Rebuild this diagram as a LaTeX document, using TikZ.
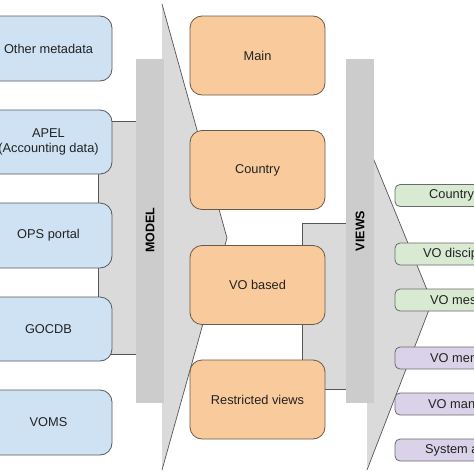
\documentclass[tikz,border=0pt]{standalone}
\usepackage{fontspec}
\setmainfont{Liberation Sans}
\definecolor{srcblue}{HTML}{CFE2F3}
\definecolor{srcline}{HTML}{595959}
\definecolor{modorange}{HTML}{F9CB9C}
\definecolor{modline}{HTML}{6B5A4A}
\definecolor{viewgreen}{HTML}{D9EAD3}
\definecolor{viewpurple}{HTML}{D9D2E9}
\definecolor{viewline}{HTML}{6A6A6A}
\definecolor{lightgray}{HTML}{DADADA}
\definecolor{bargray}{HTML}{CCCCCC}
\definecolor{edgegray}{HTML}{555555}
\definecolor{txt}{HTML}{222222}
\begin{document}
\begin{tikzpicture}[x=1pt,y=-1pt,
  every node/.style={font=\fontsize{12.8}{15}\selectfont, text=txt},
  srcbox/.style={draw=srcline, fill=srcblue, rounded corners=12pt, line width=0.8pt,
    minimum width=127pt, inner sep=0pt, align=center},
  modbox/.style={draw=modline, fill=modorange, rounded corners=12pt, line width=0.8pt,
    minimum width=135pt, minimum height=79pt, inner sep=0pt, align=center},
  viewbox/.style={draw=viewline, line width=0.8pt, rounded corners=5pt,
    minimum width=125pt, minimum height=22pt, inner sep=0pt},
  greenbox/.style={viewbox, fill=viewgreen},
  purplebox/.style={viewbox, fill=viewpurple},
  viewtext/.style={anchor=west, inner sep=0pt},
  backrect/.style={fill=lightgray, draw=edgegray, line width=0.7pt},
  barrect/.style={fill=bargray},
  tri/.style={fill=lightgray},
  triedge/.style={draw=edgegray, line width=0.7pt},
  barlabel/.style={rotate=90, font=\fontsize{12.5}{15}\bfseries, text=black}
]
\useasboundingbox (0,0) rectangle (474,474);
\fill[white] (0,0) rectangle (474,474);

% ---- model stage ----
\draw[backrect] (98,121) rectangle (136,354);
\fill[tri] (162,4) -- (227,238) -- (162,470) -- cycle;
\draw[triedge] (162,4) -- (227,238) -- (162,470);
\fill[barrect] (136,59) rectangle (164,403);
\node[barlabel] (model) at (150,230) {MODEL};

% sources
\node[srcbox, minimum height=65pt] (other) at (48.5,48.5) {Other metadata};
\node[srcbox, minimum height=64pt] (apel) at (48.5,142) {APEL\\(Accounting data)};
\node[srcbox, minimum height=65pt] (ops) at (48.5,235.5) {OPS portal};
\node[srcbox, minimum height=64pt] (gocdb) at (48.5,329) {GOCDB};
\node[srcbox, minimum height=65pt] (voms) at (48.5,422.5) {VOMS};

% ---- views stage ----
\draw[backrect] (302,223) rectangle (346,389);
\fill[tri] (367,143) -- (432,302) -- (367,470) -- cycle;
\draw[triedge] (367,143) -- (432,302) -- (367,470);
\fill[barrect] (346,59) rectangle (374,403);
\node[barlabel] (views) at (360,231) {VIEWS};

% models
\node[modbox] (main) at (257.5,55.5) {Main};
\node[modbox] (country) at (257.5,170) {Country};
\node[modbox] (vobased) at (257.5,285) {VO based};
\node[modbox] (restricted) at (257.5,399.5) {Restricted views};

% views
\node[greenbox] (v1) at (457.5,195.5) {};
\node[viewtext] (t1) at (429,195.5) {Country};
\node[greenbox] (v2) at (457.5,254) {};
\node[viewtext] (t2) at (423,254) {VO discip};
\node[greenbox] (v3) at (457.5,300) {};
\node[viewtext] (t3) at (430,300) {VO mes};
\node[purplebox] (v4) at (457.5,358) {};
\node[viewtext] (t4) at (430,358) {VO mem};
\node[purplebox] (v5) at (457.5,404) {};
\node[viewtext] (t5) at (428,404) {VO man};
\node[purplebox] (v6) at (457.5,450) {};
\node[viewtext] (t6) at (425,450) {System a};
\end{tikzpicture}
\end{document}
